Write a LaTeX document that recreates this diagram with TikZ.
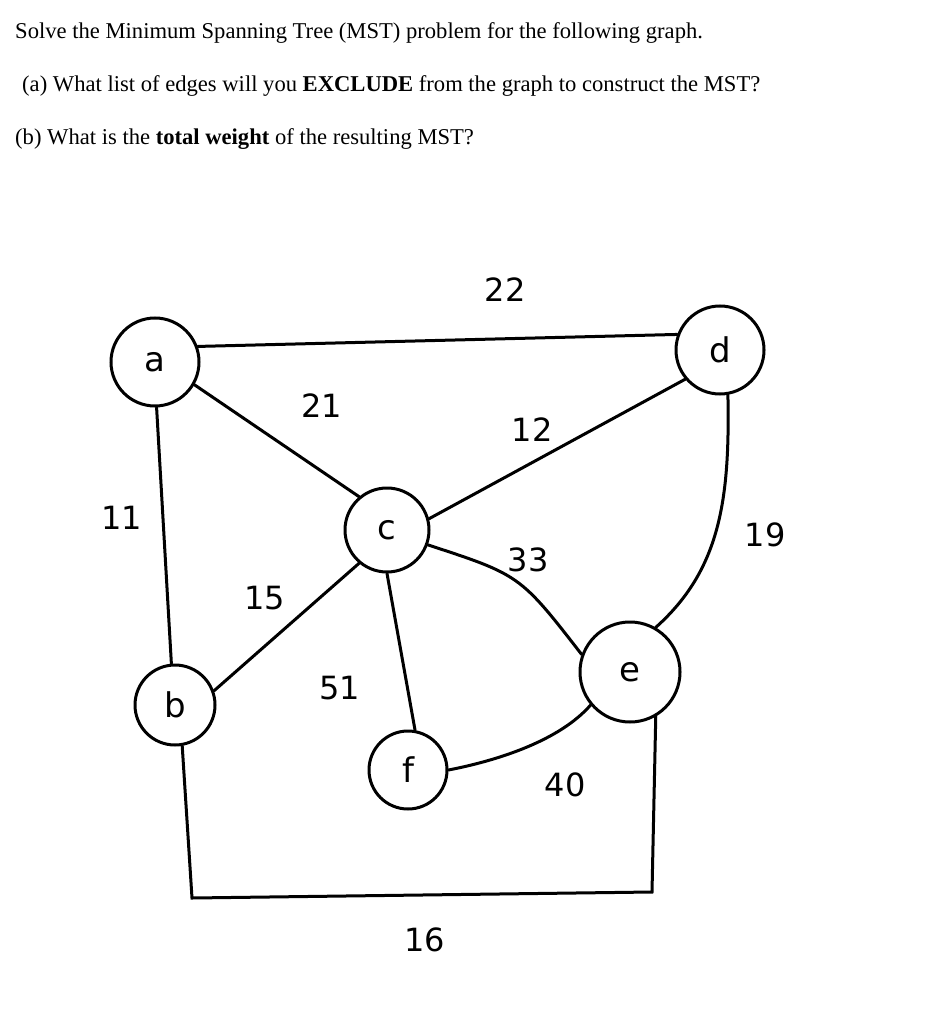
\documentclass[tikz,border=0pt]{standalone}
\usepackage{fontspec}
\setmainfont{Liberation Serif}
\newfontfamily\hand{DejaVu Sans}
\begin{document}
\begin{tikzpicture}[x=1pt,y=-1pt,
  vtx/.style={circle,draw,line width=3pt,minimum size=88pt,inner sep=0pt,font=\hand\fontsize{34}{34}\selectfont},
  edge/.style={line width=3pt,line cap=round},
  wt/.style={font=\hand\fontsize{32}{32}\selectfont},
  q/.style={anchor=west,inner sep=0pt,font=\fontsize{22.6}{26}\selectfont}]
\useasboundingbox (0,0) rectangle (936,1024);
\node[q] (t1) at (15,33) {Solve the Minimum Spanning Tree (MST) problem for the following graph.};
\node[q] (t2) at (22,86) {(a) What list of edges will you \textbf{EXCLUDE} from the graph to construct the MST?};
\node[q] (t3) at (15,139) {(b) What is the \textbf{total weight} of the resulting MST?};
\node[vtx] (a) at (155,362) {a};
\node[vtx] (d) at (720,350) {d};
\node[vtx,minimum size=84pt] (c) at (387,530) {c};
\node[vtx,minimum size=100pt] (e) at (630,672) {e};
\node[vtx,minimum size=80pt] (b) at (175,705) {b};
\node[vtx,minimum size=78pt] (f) at (408,770) {f};
\draw[edge] (a.20) -- (d.160);
\draw[edge] (a.-30) -- (c.130);
\draw[edge] (c.15) -- (d.-140);
\draw[edge] (a.-88) -- (b.95);
\draw[edge] (b.20) -- (c.-130);
\draw[edge] (c.-90) -- (f.80);
\draw[edge] (c.-20) .. controls (520,575) .. (e.160);
\draw[edge] (d.-80) .. controls (730,500) and (720,570) .. (e.60);
\draw[edge] (e.-140) .. controls (560,740) and (500,760) .. (f.0);
\coordinate (bl) at (192,898);
\coordinate (br) at (652,892);
\draw[edge] (b.-80) -- (bl) -- (br) -- (e.-60);
\node[wt] (w22) at (505,290) {22};
\node[wt] (w21) at (322,406) {21};
\node[wt] (w12) at (532,430) {12};
\node[wt] (w11) at (122,518) {11};
\node[wt] (w19) at (765,535) {19};
\node[wt] (w33) at (528,560) {33};
\node[wt] (w15) at (265,598) {15};
\node[wt] (w51) at (340,688) {51};
\node[wt] (w40) at (565,785) {40};
\node[wt] (w16) at (425,940) {16};
\end{tikzpicture}
\end{document}
